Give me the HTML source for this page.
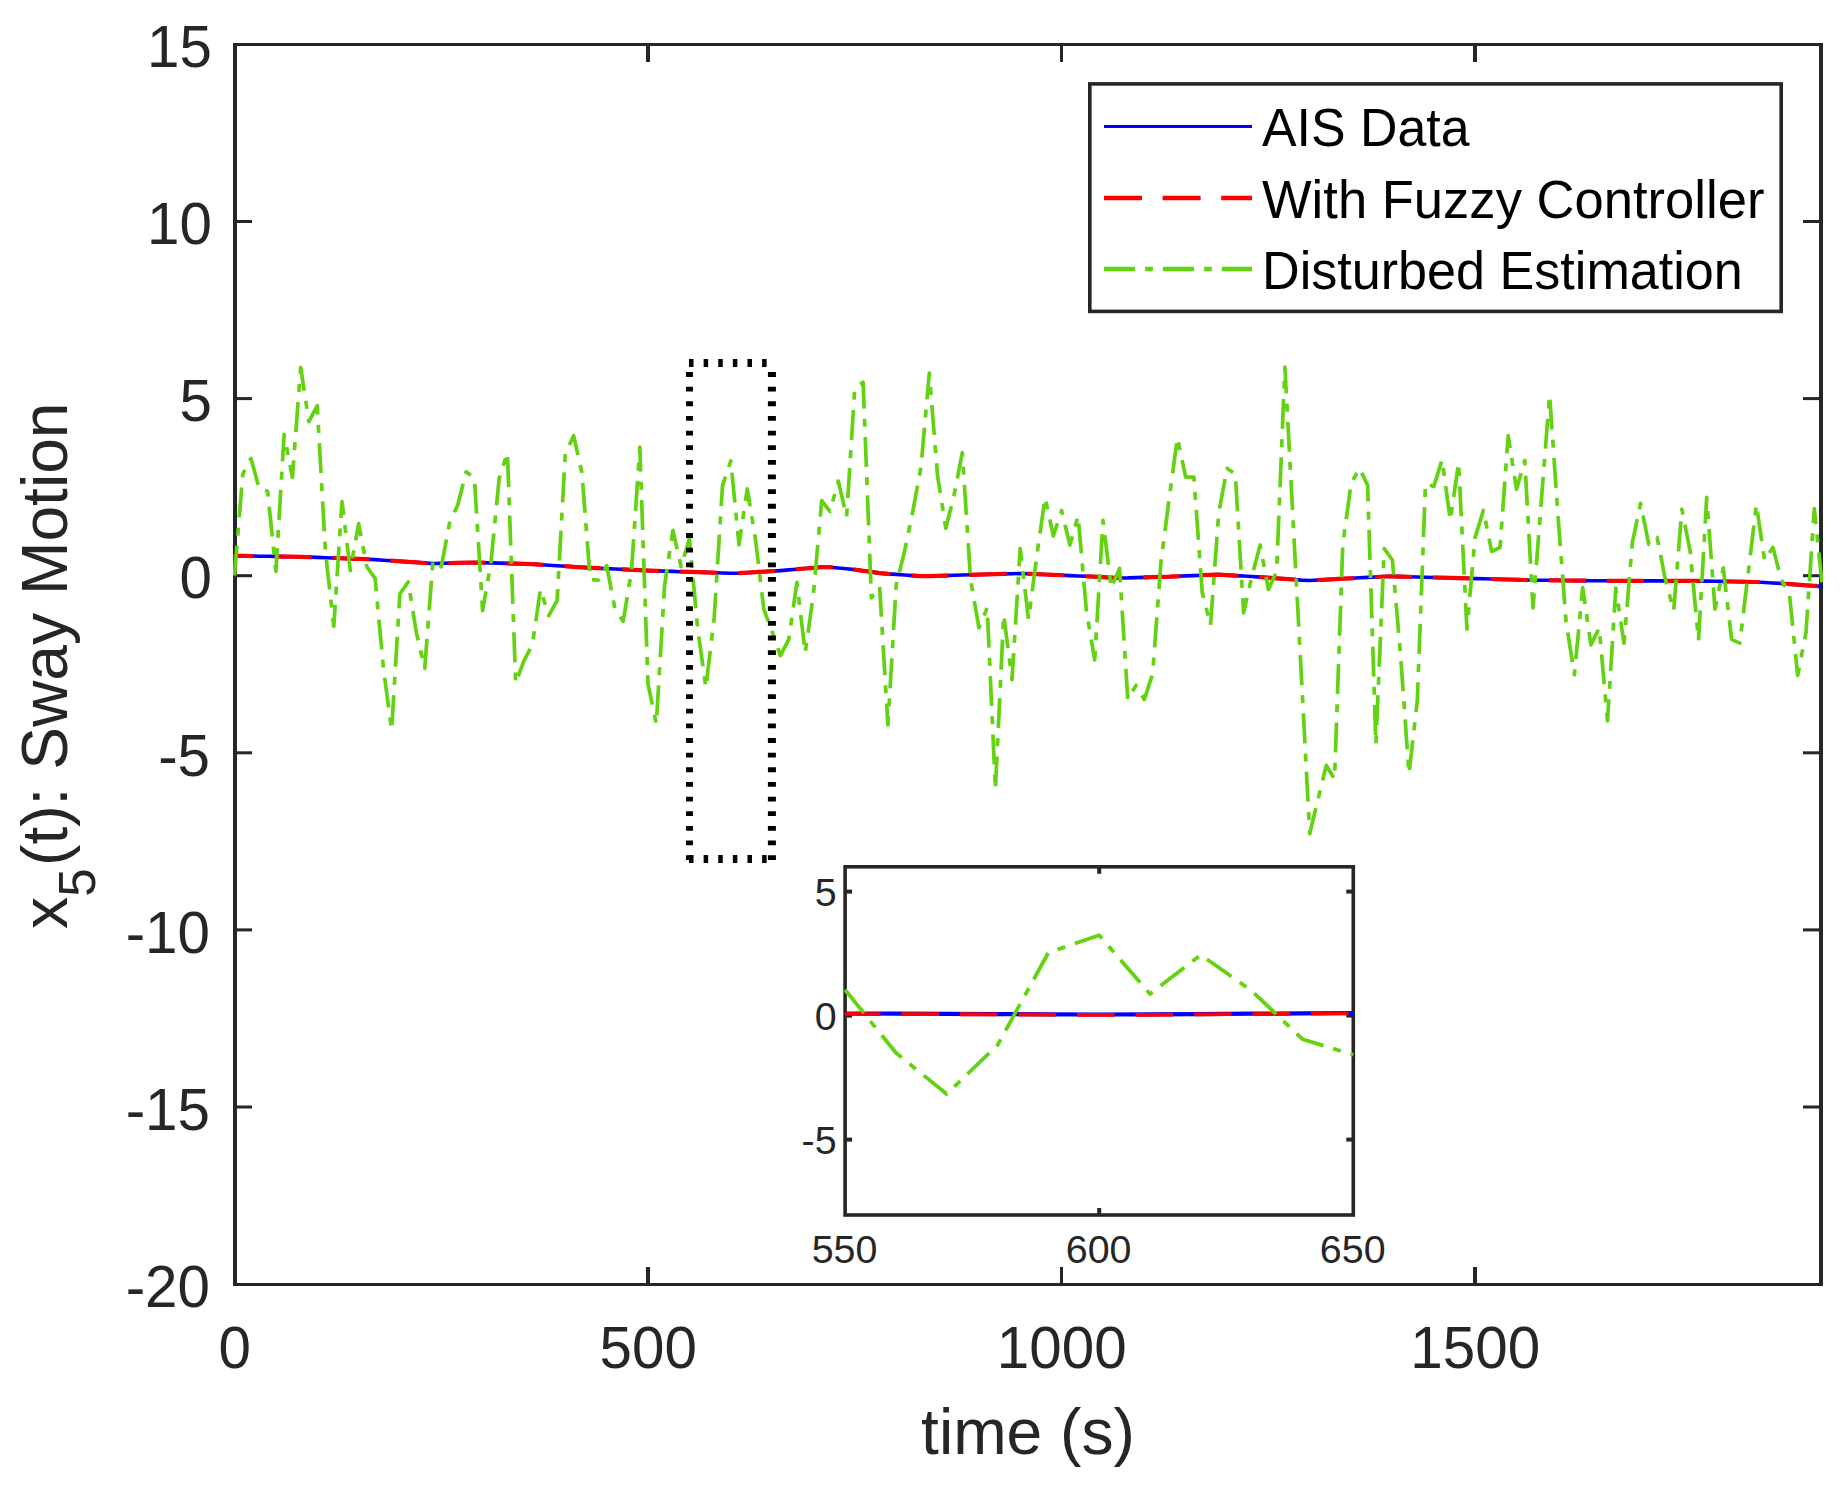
<!DOCTYPE html>
<html lang="en"><head><meta charset="utf-8"><title>Sway Motion</title>
<style>html,body{margin:0;padding:0;background:#fff}body{width:1843px;height:1488px;overflow:hidden}svg{display:block}text{font-family:"Liberation Sans",sans-serif}</style></head><body>
<svg width="1843" height="1488" viewBox="0 0 1843 1488">
<rect width="1843" height="1488" fill="#fff"/>
<defs><clipPath id="cm"><rect x="233" y="43" width="1590" height="1243"/></clipPath><clipPath id="ci"><rect x="843.3000000000001" y="865.0" width="511.79999999999995" height="351.80000000000007"/></clipPath></defs>
<g fill="#262626">
<rect x="233" y="43" width="4" height="1243"/>
<rect x="1819" y="43" width="4" height="1243"/>
<rect x="233" y="43" width="1590" height="3"/>
<rect x="233" y="1283" width="1590" height="3"/>
<rect x="646" y="1267" width="4" height="17"/>
<rect x="646" y="45" width="4" height="17"/>
<rect x="1060" y="1267" width="3" height="17"/>
<rect x="1060" y="45" width="3" height="17"/>
<rect x="1473" y="1267" width="4" height="17"/>
<rect x="1473" y="45" width="4" height="17"/>
<rect x="236" y="220.0" width="16" height="3"/>
<rect x="1803" y="220.0" width="17" height="3"/>
<rect x="236" y="397.1" width="16" height="3"/>
<rect x="1803" y="397.1" width="17" height="3"/>
<rect x="236" y="574.2" width="16" height="3"/>
<rect x="1803" y="574.2" width="17" height="3"/>
<rect x="236" y="751.3" width="16" height="3"/>
<rect x="1803" y="751.3" width="17" height="3"/>
<rect x="236" y="928.4" width="16" height="3"/>
<rect x="1803" y="928.4" width="17" height="3"/>
<rect x="236" y="1105.5" width="16" height="3"/>
<rect x="1803" y="1105.5" width="17" height="3"/>
</g>
<g clip-path="url(#cm)" fill="none" stroke-linejoin="round">
<polyline points="234.5,575.6 234.5,555.8 242.8,555.9 251.0,556.0 259.3,556.2 267.6,556.3 275.9,556.4 284.1,556.6 292.4,556.7 300.7,556.8 308.9,557.1 317.2,557.4 325.5,557.7 333.8,558.0 342.0,558.3 350.3,558.6 358.6,558.9 366.8,559.2 375.1,559.6 383.4,560.2 391.6,560.7 399.9,561.3 408.2,561.9 416.5,562.4 424.7,563.0 433.0,563.6 441.3,563.3 449.5,563.1 457.8,562.9 466.1,562.7 474.4,562.5 482.6,562.7 490.9,562.9 499.2,563.1 507.4,563.4 515.7,563.6 524.0,563.8 532.3,564.1 540.5,564.7 548.8,565.2 557.1,565.7 565.3,566.2 573.6,566.8 581.9,567.3 590.2,567.8 598.4,568.2 606.7,568.6 615.0,569.0 623.2,569.4 631.5,569.8 639.8,570.2 648.0,570.6 656.3,570.9 664.6,571.1 672.9,571.4 681.1,571.7 689.4,571.9 697.7,572.2 705.9,572.4 714.2,572.7 722.5,573.0 730.8,573.3 739.0,573.2 747.3,572.7 755.6,572.2 763.8,571.7 772.1,571.2 780.4,570.6 788.7,569.9 796.9,569.2 805.2,568.5 813.5,567.8 821.7,567.1 830.0,567.2 838.3,568.0 846.6,568.8 854.8,569.6 863.1,570.8 871.4,571.9 879.6,573.1 887.9,573.9 896.2,574.4 904.5,575.0 912.7,575.6 921.0,576.1 929.3,576.1 937.5,575.8 945.8,575.6 954.1,575.3 962.3,575.0 970.6,574.8 978.9,574.6 987.2,574.3 995.4,574.1 1003.7,573.9 1012.0,573.7 1020.2,573.5 1028.5,573.8 1036.8,574.2 1045.1,574.5 1053.3,574.9 1061.6,575.2 1069.9,575.6 1078.1,576.0 1086.4,576.3 1094.7,576.7 1103.0,577.2 1111.2,577.6 1119.5,578.0 1127.8,577.9 1136.0,577.6 1144.3,577.4 1152.6,577.2 1160.9,576.9 1169.1,576.7 1177.4,576.3 1185.7,575.9 1193.9,575.6 1202.2,575.2 1210.5,574.8 1218.7,574.6 1227.0,575.1 1235.3,575.6 1243.6,576.0 1251.8,576.5 1260.1,577.1 1268.4,577.7 1276.6,578.3 1284.9,578.9 1293.2,579.5 1301.5,580.1 1309.7,580.5 1318.0,580.0 1326.3,579.6 1334.5,579.2 1342.8,578.7 1351.1,578.3 1359.4,577.8 1367.6,577.4 1375.9,577.0 1384.2,576.5 1392.4,576.4 1400.7,576.6 1409.0,576.8 1417.3,577.0 1425.5,577.2 1433.8,577.5 1442.1,577.7 1450.3,577.9 1458.6,578.1 1466.9,578.3 1475.1,578.6 1483.4,578.8 1491.7,579.0 1500.0,579.3 1508.2,579.5 1516.5,579.7 1524.8,580.0 1533.0,580.2 1541.3,580.3 1549.6,580.3 1557.9,580.4 1566.1,580.5 1574.4,580.6 1582.7,580.6 1590.9,580.7 1599.2,580.8 1607.5,580.8 1615.8,580.9 1624.0,580.9 1632.3,580.9 1640.6,580.9 1648.8,580.9 1657.1,580.9 1665.4,580.9 1673.7,580.9 1681.9,580.9 1690.2,580.9 1698.5,580.9 1706.7,581.1 1715.0,581.2 1723.3,581.4 1731.6,581.5 1739.8,581.7 1748.1,581.8 1756.4,582.0 1764.6,582.5 1772.9,583.0 1781.2,583.5 1789.4,584.1 1797.7,584.7 1806.0,585.3 1814.3,585.9 1822.5,586.6" stroke="#0000ff" stroke-width="3.6"/>
<polyline points="234.5,575.6 234.5,555.8 242.8,555.9 251.0,556.0 259.3,556.2 267.6,556.3 275.9,556.4 284.1,556.6 292.4,556.7 300.7,556.8 308.9,557.1 317.2,557.4 325.5,557.7 333.8,558.0 342.0,558.3 350.3,558.6 358.6,558.9 366.8,559.2 375.1,559.6 383.4,560.2 391.6,560.7 399.9,561.3 408.2,561.9 416.5,562.4 424.7,563.0 433.0,563.6 441.3,563.3 449.5,563.1 457.8,562.9 466.1,562.7 474.4,562.5 482.6,562.7 490.9,562.9 499.2,563.1 507.4,563.4 515.7,563.6 524.0,563.8 532.3,564.1 540.5,564.7 548.8,565.2 557.1,565.7 565.3,566.2 573.6,566.8 581.9,567.3 590.2,567.8 598.4,568.2 606.7,568.6 615.0,569.0 623.2,569.4 631.5,569.8 639.8,570.2 648.0,570.6 656.3,570.9 664.6,571.1 672.9,571.4 681.1,571.7 689.4,571.9 697.7,572.2 705.9,572.4 714.2,572.7 722.5,573.0 730.8,573.3 739.0,573.2 747.3,572.7 755.6,572.2 763.8,571.7 772.1,571.2 780.4,570.6 788.7,569.9 796.9,569.2 805.2,568.5 813.5,567.8 821.7,567.1 830.0,567.2 838.3,568.0 846.6,568.8 854.8,569.6 863.1,570.8 871.4,571.9 879.6,573.1 887.9,573.9 896.2,574.4 904.5,575.0 912.7,575.6 921.0,576.1 929.3,576.1 937.5,575.8 945.8,575.6 954.1,575.3 962.3,575.0 970.6,574.8 978.9,574.6 987.2,574.3 995.4,574.1 1003.7,573.9 1012.0,573.7 1020.2,573.5 1028.5,573.8 1036.8,574.2 1045.1,574.5 1053.3,574.9 1061.6,575.2 1069.9,575.6 1078.1,576.0 1086.4,576.3 1094.7,576.7 1103.0,577.2 1111.2,577.6 1119.5,578.0 1127.8,577.9 1136.0,577.6 1144.3,577.4 1152.6,577.2 1160.9,576.9 1169.1,576.7 1177.4,576.3 1185.7,575.9 1193.9,575.6 1202.2,575.2 1210.5,574.8 1218.7,574.6 1227.0,575.1 1235.3,575.6 1243.6,576.0 1251.8,576.5 1260.1,577.1 1268.4,577.7 1276.6,578.3 1284.9,578.9 1293.2,579.5 1301.5,580.1 1309.7,580.5 1318.0,580.0 1326.3,579.6 1334.5,579.2 1342.8,578.7 1351.1,578.3 1359.4,577.8 1367.6,577.4 1375.9,577.0 1384.2,576.5 1392.4,576.4 1400.7,576.6 1409.0,576.8 1417.3,577.0 1425.5,577.2 1433.8,577.5 1442.1,577.7 1450.3,577.9 1458.6,578.1 1466.9,578.3 1475.1,578.6 1483.4,578.8 1491.7,579.0 1500.0,579.3 1508.2,579.5 1516.5,579.7 1524.8,580.0 1533.0,580.2 1541.3,580.3 1549.6,580.3 1557.9,580.4 1566.1,580.5 1574.4,580.6 1582.7,580.6 1590.9,580.7 1599.2,580.8 1607.5,580.8 1615.8,580.9 1624.0,580.9 1632.3,580.9 1640.6,580.9 1648.8,580.9 1657.1,580.9 1665.4,580.9 1673.7,580.9 1681.9,580.9 1690.2,580.9 1698.5,580.9 1706.7,581.1 1715.0,581.2 1723.3,581.4 1731.6,581.5 1739.8,581.7 1748.1,581.8 1756.4,582.0 1764.6,582.5 1772.9,583.0 1781.2,583.5 1789.4,584.1 1797.7,584.7 1806.0,585.3 1814.3,585.9 1822.5,586.6" stroke="#ff0000" stroke-width="4.2" stroke-dasharray="37 21" stroke-dashoffset="56"/>
<polyline points="234.5,575.6 242.8,474.0 251.0,458.4 259.3,488.8 267.6,491.3 275.9,571.4 284.1,434.3 292.4,477.5 300.7,367.4 308.9,421.6 317.2,405.6 325.5,552.6 333.8,626.2 342.0,501.6 350.3,570.6 358.6,523.5 366.8,566.7 375.1,578.4 383.4,667.7 391.6,730.3 399.9,593.7 408.2,582.0 416.5,633.3 424.7,668.4 433.0,560.4 441.3,566.7 449.5,523.2 457.8,504.8 466.1,471.8 474.4,478.2 482.6,610.7 490.9,562.9 499.2,478.2 507.4,452.7 515.7,683.2 524.0,660.6 532.3,645.0 540.5,589.4 548.8,615.6 557.1,600.7 565.3,453.4 573.6,435.7 581.9,472.6 590.2,579.5 598.4,580.2 606.7,565.7 615.0,609.2 623.2,621.3 631.5,571.0 639.8,447.1 648.0,684.0 656.3,724.0 664.6,585.2 672.9,530.3 681.1,566.7 689.4,538.8 697.7,628.7 705.9,687.5 714.2,617.7 722.5,485.7 730.8,460.9 739.0,544.8 747.3,488.8 755.6,540.2 763.8,609.2 772.1,631.5 780.4,655.6 788.7,639.7 796.9,582.3 805.2,652.8 813.5,593.3 821.7,500.5 830.0,511.5 838.3,481.1 846.6,516.8 854.8,387.9 863.1,382.3 871.4,597.9 879.6,586.6 887.9,725.0 896.2,585.2 904.5,551.5 912.7,511.9 921.0,466.9 929.3,373.1 937.5,475.4 945.8,528.2 954.1,494.9 962.3,452.7 970.6,579.5 978.9,627.7 987.2,607.8 995.4,789.5 1003.7,614.9 1012.0,679.7 1020.2,548.7 1028.5,619.2 1036.8,555.8 1045.1,497.7 1053.3,535.9 1061.6,510.4 1069.9,545.1 1078.1,516.1 1086.4,610.7 1094.7,659.9 1103.0,520.4 1111.2,588.0 1119.5,568.5 1127.8,699.5 1136.0,685.4 1144.3,699.5 1152.6,674.0 1160.9,562.9 1169.1,499.1 1177.4,437.9 1185.7,477.2 1193.9,477.2 1202.2,592.2 1210.5,625.2 1218.7,513.3 1227.0,468.3 1235.3,474.0 1243.6,612.8 1251.8,576.7 1260.1,545.1 1268.4,589.4 1276.6,571.7 1284.9,367.0 1293.2,522.8 1301.5,678.3 1309.7,833.7 1318.0,799.4 1326.3,765.4 1334.5,779.2 1342.8,544.4 1351.1,483.5 1359.4,468.3 1367.6,485.3 1375.9,744.2 1384.2,548.7 1392.4,560.0 1400.7,657.0 1409.0,773.9 1417.3,700.6 1425.5,483.5 1433.8,486.4 1442.1,459.8 1450.3,520.4 1458.6,462.6 1466.9,629.1 1475.1,537.4 1483.4,510.4 1491.7,551.5 1500.0,547.3 1508.2,435.7 1516.5,489.2 1524.8,460.5 1533.0,607.8 1541.3,501.2 1549.6,395.0 1557.9,514.7 1566.1,622.0 1574.4,674.7 1582.7,587.6 1590.9,645.0 1599.2,628.0 1607.5,720.8 1615.8,588.0 1624.0,643.2 1632.3,543.0 1640.6,503.4 1648.8,544.4 1657.1,537.4 1665.4,579.5 1673.7,610.7 1681.9,509.0 1690.2,551.5 1698.5,640.4 1706.7,497.3 1715.0,609.2 1723.3,567.8 1731.6,639.3 1739.8,643.2 1748.1,573.8 1756.4,504.4 1764.6,560.4 1772.9,547.3 1781.2,579.5 1789.4,593.7 1797.7,675.5 1806.0,632.3 1814.3,508.7 1822.5,588.0" stroke="#62d211" stroke-width="3.7" stroke-dasharray="30 10.2 8 10.2"/>
</g>
<g stroke="#000" fill="none">
<line x1="689" y1="363" x2="773" y2="363" stroke-width="8" stroke-dasharray="4.5 10.12"/>
<line x1="689" y1="859" x2="773" y2="859" stroke-width="8" stroke-dasharray="4.5 10.12"/>
<line x1="689.5" y1="860" x2="689.5" y2="363" stroke-width="6.9" stroke-dasharray="4.8 9.84"/>
<line x1="771.9" y1="860" x2="771.9" y2="363" stroke-width="8" stroke-dasharray="4.8 9.84"/>
</g>
<g fill="#262626" font-size="58.33px">
<text x="234.7" y="1368" text-anchor="middle">0</text>
<text x="648.2" y="1368" text-anchor="middle">500</text>
<text x="1061.7" y="1368" text-anchor="middle">1000</text>
<text x="1475.2" y="1368" text-anchor="middle">1500</text>
<text x="212" y="67.1" text-anchor="end">15</text>
<text x="212" y="244.2" text-anchor="end">10</text>
<text x="212" y="421.3" text-anchor="end">5</text>
<text x="212" y="598.4" text-anchor="end">0</text>
<text x="210" y="775.5" text-anchor="end">-5</text>
<text x="210" y="952.6" text-anchor="end">-10</text>
<text x="210" y="1129.7" text-anchor="end">-15</text>
<text x="210" y="1306.8" text-anchor="end">-20</text>
</g>
<text x="1028" y="1454" text-anchor="middle" font-size="64.17px" fill="#262626">time (s)</text>
<text transform="translate(66.5,665.7) rotate(-90)" text-anchor="middle" font-size="64.17px" fill="#262626">x<tspan font-size="51px" dy="28">5</tspan><tspan dy="-28" dx="2.5">(t): Sway Motion</tspan></text>
<rect x="1089.8" y="83.9" width="691.4" height="227.5" fill="#fff" stroke="#262626" stroke-width="3.6"/>
<line x1="1104" y1="126.5" x2="1252" y2="126.5" stroke="#0000ff" stroke-width="3.2"/>
<line x1="1104" y1="198" x2="1252" y2="198" stroke="#ff0000" stroke-width="4.4" stroke-dasharray="38 20.6"/>
<line x1="1104" y1="269" x2="1252" y2="269" stroke="#62d211" stroke-width="4.4" stroke-dasharray="31 10.2 7.7 10"/>
<g fill="#000" font-size="53.6px">
<text x="1262" y="146.2" textLength="207.5" lengthAdjust="spacingAndGlyphs">AIS Data</text>
<text x="1262" y="218.3" textLength="502.4" lengthAdjust="spacingAndGlyphs">With Fuzzy Controller</text>
<text x="1262" y="289.4" textLength="480.8" lengthAdjust="spacingAndGlyphs">Disturbed Estimation</text>
</g>
<rect x="845.1" y="866.8" width="508.19999999999993" height="348.20000000000005" fill="#fff"/>
<rect x="845.1" y="866.8" width="508.19999999999993" height="348.20000000000005" fill="none" stroke="#262626" stroke-width="3.6"/>
<g fill="#262626">
<rect x="1097.2" y="866.8" width="4" height="7"/>
<rect x="1097.2" y="1208.0" width="4" height="7"/>
<rect x="845.1" y="889.6" width="7" height="4"/>
<rect x="1346.3" y="889.6" width="7" height="4"/>
<rect x="845.1" y="1013.6" width="7" height="4"/>
<rect x="1346.3" y="1013.6" width="7" height="4"/>
<rect x="845.1" y="1137.6" width="7" height="4"/>
<rect x="1346.3" y="1137.6" width="7" height="4"/>
</g>
<g clip-path="url(#ci)" fill="none" stroke-linejoin="round">
<polyline points="845.1,1013.5 895.9,1013.7 946.7,1013.9 997.6,1014.1 1048.4,1014.3 1099.2,1014.5 1150.0,1014.4 1200.8,1014.1 1251.7,1013.7 1302.5,1013.3 1353.3,1013.0" stroke="#0000ff" stroke-width="4.2"/>
<polyline points="845.1,1013.9 895.9,1014.1 946.7,1014.2 997.6,1014.4 1048.4,1014.7 1099.2,1014.9 1150.0,1014.8 1200.8,1014.4 1251.7,1014.1 1302.5,1013.7 1353.3,1013.4" stroke="#ff0000" stroke-width="3.8" stroke-dasharray="37.5 21" stroke-dashoffset="2"/>
<polyline points="845.1,989.8 895.9,1052.8 946.7,1094.0 997.6,1045.1 1048.4,952.6 1099.2,935.2 1150.0,994.0 1200.8,954.8 1251.7,990.8 1302.5,1039.2 1353.3,1054.8" stroke="#62d211" stroke-width="3.8" stroke-dasharray="30 10.2 8 10.2"/>
</g>
<g fill="#262626" font-size="39.4px">
<text x="844.5" y="1262.6" text-anchor="middle">550</text>
<text x="1098.6" y="1262.6" text-anchor="middle">600</text>
<text x="1352.7" y="1262.6" text-anchor="middle">650</text>
<text x="836.6" y="906.0" text-anchor="end">5</text>
<text x="836.6" y="1030.0" text-anchor="end">0</text>
<text x="836.6" y="1154.0" text-anchor="end">-5</text>
</g>
</svg></body></html>
